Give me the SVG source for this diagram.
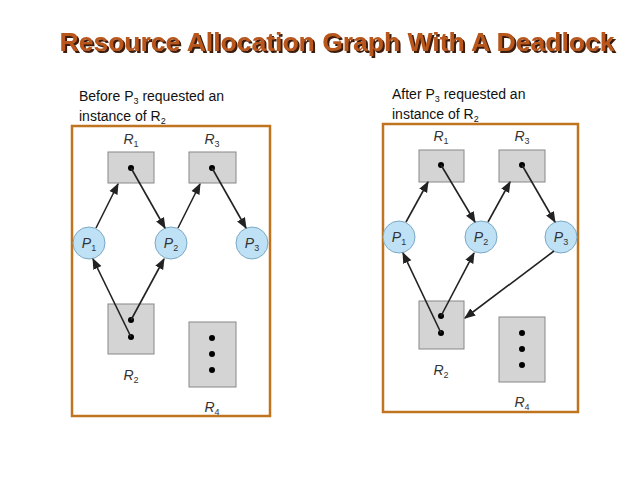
<svg xmlns="http://www.w3.org/2000/svg" width="638" height="479" viewBox="0 0 638 479">
<style>
.t{font-family:"Liberation Sans",Arial,sans-serif;font-size:14px;fill:#111}
.l{font-family:"Liberation Sans",Arial,sans-serif;font-size:14px;font-style:italic;fill:#333;text-anchor:middle}
.s{font-size:9px;font-style:normal}
.fr{fill:none;stroke:#c0741f;stroke-width:2.5}
.r{fill:#d4d4d4;stroke:#888;stroke-width:1}
.p{fill:#bfe1f5;stroke:#7aa9c4;stroke-width:1}
.e{stroke:#222;stroke-width:1.6;fill:none;marker-end:url(#a)}
</style>
<defs><marker id="a" viewBox="0 0 10 10" refX="9" refY="5" markerWidth="7" markerHeight="7" orient="auto"><path d="M0,1 L10,5 L0,9 z" fill="#222"/></marker>
<filter id="sh" x="-5%" y="-30%" width="110%" height="160%"><feDropShadow dx="2" dy="2" stdDeviation="0.3" flood-color="#3a1a08"/></filter></defs>
<rect width="638" height="479" fill="#fff"/>
<text x="337" y="51" text-anchor="middle" filter="url(#sh)" style="font-family:'Liberation Sans',Arial,sans-serif;font-weight:bold;font-size:26.5px;fill:#b8561c">Resource Allocation Graph With A Deadlock</text>
<g id="left">
<text class="t" x="79" y="101">Before P<tspan class="s" dy="3">3</tspan><tspan dy="-3"> requested an</tspan></text>
<text class="t" x="79" y="121">instance of R<tspan class="s" dy="3">2</tspan></text>
<rect class="fr" x="72" y="126" width="198" height="290"/>
<g id="L-R1"><rect class="r" x="108" y="152" width="46" height="31"/><circle cx="131" cy="168" r="3"/><text class="l" x="131" y="144">R<tspan class="s" dy="3">1</tspan></text></g>
<g id="L-R3"><rect class="r" x="189" y="152" width="47" height="31"/><circle cx="212" cy="168" r="3"/><text class="l" x="212" y="144">R<tspan class="s" dy="3">3</tspan></text></g>
<g id="L-P1"><circle class="p" cx="89" cy="243" r="16"/><text class="l" x="89" y="248">P<tspan class="s" dy="3">1</tspan></text></g>
<g id="L-P2"><circle class="p" cx="171" cy="243" r="16"/><text class="l" x="171" y="248">P<tspan class="s" dy="3">2</tspan></text></g>
<g id="L-P3"><circle class="p" cx="252" cy="243" r="16"/><text class="l" x="252" y="248">P<tspan class="s" dy="3">3</tspan></text></g>
<g id="L-R2"><rect class="r" x="108" y="304" width="46" height="50"/><circle cx="131" cy="320" r="3"/><circle cx="131" cy="337" r="3"/><text class="l" x="131" y="380">R<tspan class="s" dy="3">2</tspan></text></g>
<g id="L-R4"><rect class="r" x="189" y="322" width="47" height="65"/><circle cx="212" cy="338" r="3"/><circle cx="212" cy="354" r="3"/><circle cx="212" cy="370" r="3"/><text class="l" x="212" y="412">R<tspan class="s" dy="3">4</tspan></text></g>
<g id="L-edges">
<path class="e" d="M96,228 L118,184"/><path class="e" d="M131,168 L165,228"/><path class="e" d="M178,228 L200,184"/><path class="e" d="M212,168 L246,228"/><path class="e" d="M131,337 L93,259"/><path class="e" d="M131,320 L164,259"/>
</g>
</g>
<g id="right">
<text class="t" x="392" y="99">After P<tspan class="s" dy="3">3</tspan><tspan dy="-3"> requested an</tspan></text>
<text class="t" x="392" y="119">instance of R<tspan class="s" dy="3">2</tspan></text>
<rect class="fr" x="383" y="124" width="195" height="288"/>
<g id="R-R1"><rect class="r" x="419" y="150" width="45" height="32"/><circle cx="441" cy="165" r="3"/><text class="l" x="441" y="141">R<tspan class="s" dy="3">1</tspan></text></g>
<g id="R-R3"><rect class="r" x="499" y="150" width="46" height="32"/><circle cx="522" cy="165" r="3"/><text class="l" x="522" y="141">R<tspan class="s" dy="3">3</tspan></text></g>
<g id="R-P1"><circle class="p" cx="399" cy="237" r="16"/><text class="l" x="399" y="242">P<tspan class="s" dy="3">1</tspan></text></g>
<g id="R-P2"><circle class="p" cx="481" cy="237" r="16"/><text class="l" x="481" y="242">P<tspan class="s" dy="3">2</tspan></text></g>
<g id="R-P3"><circle class="p" cx="561" cy="237" r="16"/><text class="l" x="561" y="242">P<tspan class="s" dy="3">3</tspan></text></g>
<g id="R-R2"><rect class="r" x="419" y="301" width="45" height="48"/><circle cx="441" cy="316" r="3"/><circle cx="441" cy="333" r="3"/><text class="l" x="441" y="375">R<tspan class="s" dy="3">2</tspan></text></g>
<g id="R-R4"><rect class="r" x="499" y="317" width="46" height="65"/><circle cx="522" cy="333" r="3"/><circle cx="522" cy="349" r="3"/><circle cx="522" cy="365" r="3"/><text class="l" x="522" y="407">R<tspan class="s" dy="3">4</tspan></text></g>
<g id="R-edges">
<path class="e" d="M406,222 L428,182"/><path class="e" d="M441,165 L475,222"/><path class="e" d="M488,222 L510,182"/><path class="e" d="M522,165 L555,222"/><path class="e" d="M441,333 L403,253"/><path class="e" d="M441,316 L474,253"/><path class="e" d="M554,251 L465,318"/>
</g>
</g>
</svg>
